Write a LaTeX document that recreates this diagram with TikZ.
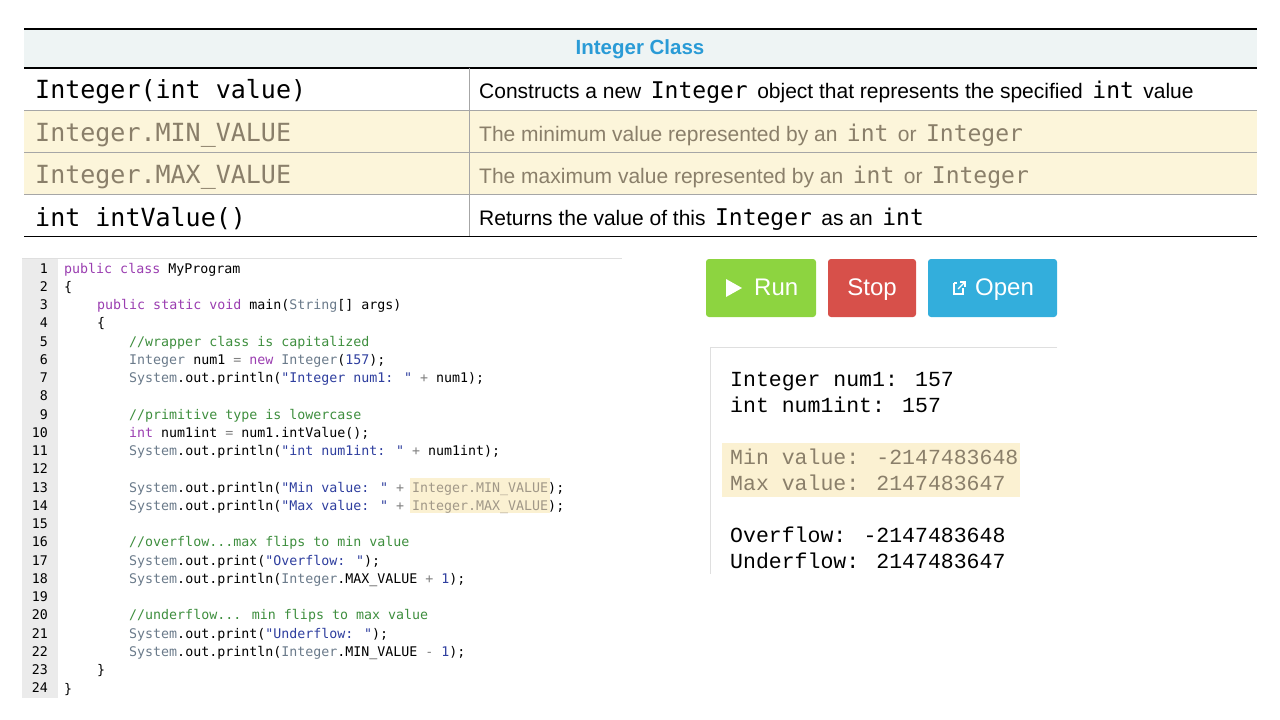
\documentclass[tikz,border=0pt]{standalone}
\usepackage{fontspec}
\setmainfont{Liberation Sans}
\newfontfamily\dvm{DejaVu Sans Mono}
\newfontfamily\cour{Liberation Mono}
\definecolor{hdr}{HTML}{EEF4F4}
\definecolor{yel}{HTML}{FCF5DA}
\definecolor{ttl}{HTML}{2A9BD6}
\definecolor{brn}{HTML}{8A7F6A}
\definecolor{kw}{HTML}{9A3DB0}
\definecolor{cm}{HTML}{3E8E3E}
\definecolor{st}{HTML}{2E3E9E}
\definecolor{cl}{HTML}{6A7A8A}
\definecolor{gut}{HTML}{EBEBEB}
\definecolor{gbtn}{HTML}{8DD440}
\definecolor{rbtn}{HTML}{D7504A}
\definecolor{bbtn}{HTML}{33AEDC}
\definecolor{hl}{HTML}{FBF1D2}
\newcommand{\tmi}[1]{\hspace{0.45em}{\dvm\fontsize{23}{26}\selectfont #1}\hspace{0.45em}}
\begin{document}
\begin{tikzpicture}[x=1pt,y=-1pt,
  cell/.style={anchor=west,inner sep=0pt},
  tm/.style={font=\dvm\fontsize{25}{28}\selectfont},
  ds/.style={font=\fontsize{21}{24}\selectfont},
  code/.style={anchor=base west,inner sep=0pt,font=\dvm\fontsize{13.3}{15}\selectfont},
  lno/.style={anchor=base east,inner sep=0pt,font=\dvm\fontsize{13.3}{15}\selectfont},
  outp/.style={anchor=base west,inner sep=0pt,font=\cour\fontsize{21.5}{24}\selectfont},
  btn/.style={rounded corners=3pt,draw=none},
  btxt/.style={text=white,font=\fontsize{24}{27}\selectfont,inner sep=0pt,text height=17pt,text depth=5pt}]
\useasboundingbox (0,0) rectangle (1280,720);
% table
\fill[hdr] (24,29) rectangle (1257,68);
\fill[yel] (24,110) rectangle (1257,194);
\draw[line width=2.5pt] (24,29) -- (1257,29);
\draw[line width=2pt] (24,68) -- (1257,68);
\foreach \y in {110,152,194} \draw[gray!70,line width=0.6pt] (24,\y) -- (1257,\y);
\draw[line width=1pt] (24,236) -- (1257,236);
\draw[gray!70,line width=0.8pt] (469,68) -- (469,236);
\node[text=ttl,font=\bfseries\fontsize{20.5}{24}\selectfont] (title) at (640,49) {Integer Class};
\node[cell,tm] (r1a) at (35,92) {Integer(int value)};
\node[cell,tm,text=brn] (r2a) at (35,135) {Integer.MIN\_VALUE};
\node[cell,tm,text=brn] (r3a) at (35,177) {Integer.MAX\_VALUE};
\node[cell,tm] (r4a) at (35,219) {int intValue()};
\node[cell,ds] (r1b) at (479,92) {Constructs a new\tmi{Integer}object that represents the specified\tmi{int}value};
\node[cell,ds,text=brn] (r2b) at (479,135) {The minimum value represented by an\tmi{int}or\tmi{Integer}};
\node[cell,ds,text=brn] (r3b) at (479,177) {The maximum value represented by an\tmi{int}or\tmi{Integer}};
\node[cell,ds] (r4b) at (479,219) {Returns the value of this\tmi{Integer}as an\tmi{int}};
% code editor
\fill[gut] (22,258) rectangle (58,698);
\draw[gray!25] (22,258) -- (622,258);
\fill[hl] (410,478) rectangle (550,513);
\foreach \n in {1,...,24} \node[lno] (ln\n) at (48,{273+(\n-1)*18.26}) {\n};
\node[code] (c1) at (64,273) {\textcolor{kw}{public class} MyProgram};
\node[code] (c2) at (64,291.3) {\{};
\node[code] (c3) at (97,309.5) {\textcolor{kw}{public static void} main(\textcolor{cl}{String}[] args)};
\node[code] (c4) at (97,327.8) {\{};
\node[code,text=cm] (c5) at (129,346) {//wrapper class is capitalized};
\node[code] (c6) at (129,364.3) {\textcolor{cl}{Integer} num1 \textcolor{gray}{=} \textcolor{kw}{new} \textcolor{cl}{Integer}(\textcolor{st}{157});};
\node[code] (c7) at (129,382.6) {\textcolor{cl}{System}.out.println(\textcolor{st}{"Integer num1: "} \textcolor{gray}{+} num1);};
\node[code,text=cm] (c9) at (129,419.1) {//primitive type is lowercase};
\node[code] (c10) at (129,437.3) {\textcolor{kw}{int} num1int \textcolor{gray}{=} num1.intValue();};
\node[code] (c11) at (129,455.6) {\textcolor{cl}{System}.out.println(\textcolor{st}{"int num1int: "} \textcolor{gray}{+} num1int);};
\node[code] (c13) at (129,492.1) {\textcolor{cl}{System}.out.println(\textcolor{st}{"Min value: "} \textcolor{gray}{+} \textcolor{brn!80}{Integer.MIN\_VALUE});};
\node[code] (c14) at (129,510.4) {\textcolor{cl}{System}.out.println(\textcolor{st}{"Max value: "} \textcolor{gray}{+} \textcolor{brn!80}{Integer.MAX\_VALUE});};
\node[code,text=cm] (c16) at (129,546.9) {//overflow...max flips to min value};
\node[code] (c17) at (129,565.2) {\textcolor{cl}{System}.out.print(\textcolor{st}{"Overflow: "});};
\node[code] (c18) at (129,583.4) {\textcolor{cl}{System}.out.println(\textcolor{cl}{Integer}.MAX\_VALUE \textcolor{gray}{+} \textcolor{st}{1});};
\node[code,text=cm] (c20) at (129,619.9) {//underflow... min flips to max value};
\node[code] (c21) at (129,638.2) {\textcolor{cl}{System}.out.print(\textcolor{st}{"Underflow: "});};
\node[code] (c22) at (129,656.5) {\textcolor{cl}{System}.out.println(\textcolor{cl}{Integer}.MIN\_VALUE \textcolor{gray}{-} \textcolor{st}{1});};
\node[code] (c23) at (97,674.7) {\}};
\node[code] (c24) at (64,693) {\}};
% buttons
\fill[btn,gbtn] (706,259) rectangle (816,317);
\fill[btn,rbtn] (828,259) rectangle (916,317);
\fill[btn,bbtn] (928,259) rectangle (1057,317);
\fill[white] (726,279) -- (742,288) -- (726,297) -- cycle;
\node[btxt,anchor=west] (run) at (754,289) {Run};
\node[btxt] (stop) at (872,289) {Stop};
\draw[white,line width=1.3pt] (954,283) -- (954,294) -- (963,294) -- (963,288);
\draw[white,line width=1.3pt] (954,283) -- (957,283);
\draw[white,line width=1.3pt] (958,289) -- (964,283);
\draw[white,line width=1.3pt] (960,282) -- (965,282) -- (965,287);
\node[btxt,anchor=west] (open) at (975,289) {Open};
% output
\draw[gray!25,line width=1pt] (1057,347) -- (710,347) -- (710,574);
\fill[hl] (722,443) rectangle (1020,497);
\node[outp] (o1) at (730,386) {Integer num1: 157};
\node[outp] (o2) at (730,412) {int num1int: 157};
\node[outp,text=brn] (o3) at (730,464) {Min value: -2147483648};
\node[outp,text=brn] (o4) at (730,490) {Max value: 2147483647};
\node[outp] (o5) at (730,542) {Overflow: -2147483648};
\node[outp] (o6) at (730,568) {Underflow: 2147483647};
\end{tikzpicture}
\end{document}
